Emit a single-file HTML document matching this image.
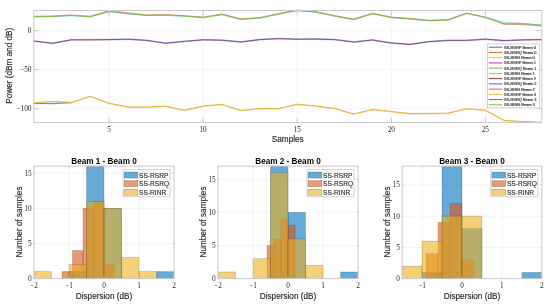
<!DOCTYPE html>
<html><head><meta charset="utf-8"><title>Figure</title>
<style>html,body{margin:0;padding:0;background:#fff;width:550px;height:305px;overflow:hidden}svg{display:block}</style>
</head><body>
<svg width="550" height="305" viewBox="0 0 550 305">
<rect x="0" y="0" width="550" height="305" fill="#ffffff"/>
<g stroke="#f1f1f1" stroke-width="0.8"><line x1="109.06" y1="10.50" x2="109.06" y2="122.60"/><line x1="203.13" y1="10.50" x2="203.13" y2="122.60"/><line x1="297.21" y1="10.50" x2="297.21" y2="122.60"/><line x1="391.28" y1="10.50" x2="391.28" y2="122.60"/><line x1="485.36" y1="10.50" x2="485.36" y2="122.60"/><line x1="33.80" y1="30.60" x2="541.80" y2="30.60"/><line x1="33.80" y1="69.60" x2="541.80" y2="69.60"/><line x1="33.80" y1="108.60" x2="541.80" y2="108.60"/></g>
<polyline points="33.80,16.95 52.61,16.75 71.43,15.75 90.24,16.95 109.06,11.75 127.87,13.95 146.69,15.65 165.50,15.35 184.32,16.35 203.13,17.85 221.95,14.75 240.76,19.55 259.58,18.35 278.39,14.35 297.21,10.75 316.02,12.35 334.84,16.35 353.65,19.75 372.47,13.95 391.28,17.75 410.10,19.15 428.91,20.95 447.73,20.35 466.54,13.60 485.36,16.90 504.17,22.40 522.99,23.50 541.80,25.20" fill="none" stroke="#71CBF1" stroke-width="0.80" stroke-opacity="1.00" stroke-linejoin="round"/>
<polyline points="33.80,16.25 52.61,16.05 71.43,15.05 90.24,16.25 109.06,10.60 127.87,12.80 146.69,14.95 165.50,14.65 184.32,15.65 203.13,17.15 221.95,14.05 240.76,18.85 259.58,17.65 278.39,13.65 297.21,10.05 316.02,11.65 334.84,15.65 353.65,19.05 372.47,13.25 391.28,17.05 410.10,18.45 428.91,20.25 447.73,19.65 466.54,13.05 485.36,17.50 504.17,24.30 522.99,24.50 541.80,25.90" fill="none" stroke="#E17547" stroke-width="0.80" stroke-opacity="1.00" stroke-linejoin="round"/>
<polyline points="33.80,16.60 52.61,16.40 71.43,15.40 90.24,16.60 109.06,11.40 127.87,13.60 146.69,15.30 165.50,15.00 184.32,16.00 203.13,17.50 221.95,14.40 240.76,19.20 259.58,18.00 278.39,14.00 297.21,10.40 316.02,12.00 334.84,16.00 353.65,19.40 372.47,13.60 391.28,17.40 410.10,18.80 428.91,20.60 447.73,20.00 466.54,13.40 485.36,17.30 504.17,23.70 522.99,23.70 541.80,25.20" fill="none" stroke="#84BC45" stroke-width="0.95" stroke-opacity="1.00" stroke-linejoin="round"/>
<polyline points="33.80,41.40 52.61,43.70 71.43,40.20 90.24,40.20 109.06,40.00 127.87,39.60 146.69,40.80 165.50,43.60 184.32,41.80 203.13,40.20 221.95,40.60 240.76,42.40 259.58,40.00 278.39,39.00 297.21,39.60 316.02,39.40 334.84,40.00 353.65,42.40 372.47,40.40 391.28,43.40 410.10,44.80 428.91,42.00 447.73,40.80 466.54,40.80 485.36,39.60 504.17,41.00 522.99,40.30 541.80,40.00" fill="none" stroke="#C25A70" stroke-width="0.90" stroke-opacity="0.50" stroke-linejoin="round"/>
<polyline points="33.80,40.65 52.61,42.95 71.43,39.45 90.24,39.45 109.06,39.25 127.87,38.85 146.69,40.05 165.50,42.85 184.32,41.05 203.13,39.45 221.95,39.85 240.76,41.65 259.58,39.25 278.39,38.25 297.21,38.85 316.02,38.65 334.84,39.25 353.65,41.65 372.47,39.65 391.28,42.65 410.10,44.05 428.91,41.25 447.73,40.05 466.54,40.05 485.36,38.85 504.17,40.25 522.99,39.55 541.80,39.25" fill="none" stroke="#3F7FC8" stroke-width="0.90" stroke-opacity="0.50" stroke-linejoin="round"/>
<polyline points="33.80,41.00 52.61,43.30 71.43,39.80 90.24,39.80 109.06,39.60 127.87,39.20 146.69,40.40 165.50,43.20 184.32,41.40 203.13,39.80 221.95,40.20 240.76,42.00 259.58,39.60 278.39,38.60 297.21,39.20 316.02,39.00 334.84,39.60 353.65,42.00 372.47,40.00 391.28,43.00 410.10,44.40 428.91,41.60 447.73,40.40 466.54,40.40 485.36,39.20 504.17,40.60 522.99,39.90 541.80,39.60" fill="none" stroke="#7E3F9C" stroke-width="0.90" stroke-opacity="1.00" stroke-linejoin="round"/>
<polyline points="33.80,103.50 52.61,103.70 71.43,102.60" fill="none" stroke="#4A9ED6" stroke-width="1.20" stroke-opacity="1.00" stroke-linejoin="round"/>
<polyline points="33.80,103.20 52.61,101.80 71.43,102.80 90.24,96.60 109.06,103.60 127.87,107.40 146.69,107.40 165.50,106.60 184.32,110.60 203.13,106.40 221.95,104.80 240.76,110.80 259.58,109.00 278.39,109.00 297.21,104.60 316.02,106.40 334.84,108.80 353.65,114.40 372.47,109.80 391.28,111.80 410.10,114.00 428.91,113.80 447.73,113.60 466.54,109.00 485.36,110.60 504.17,120.80 522.99,121.90 541.80,122.70" fill="none" stroke="#E07A45" stroke-width="0.90" stroke-opacity="0.45" stroke-linejoin="round"/>
<polyline points="33.80,102.80 52.61,101.40 71.43,102.40 90.24,96.20 109.06,103.20 127.87,107.00 146.69,107.00 165.50,106.20 184.32,110.20 203.13,106.00 221.95,104.40 240.76,110.40 259.58,108.60 278.39,108.60 297.21,104.20 316.02,106.00 334.84,108.40 353.65,114.00 372.47,109.40 391.28,111.40 410.10,113.60 428.91,113.40 447.73,113.20 466.54,108.60 485.36,110.20 504.17,120.40 522.99,121.50 541.80,122.30" fill="none" stroke="#EDB22A" stroke-width="1.00" stroke-opacity="1.00" stroke-linejoin="round"/>
<g stroke="#c9c9c9" stroke-width="1"><rect x="33.80" y="10.50" width="508.00" height="112.10" fill="none"/><line x1="109.06" y1="122.60" x2="109.06" y2="117.60"/><line x1="109.06" y1="10.50" x2="109.06" y2="15.50"/><line x1="203.13" y1="122.60" x2="203.13" y2="117.60"/><line x1="203.13" y1="10.50" x2="203.13" y2="15.50"/><line x1="297.21" y1="122.60" x2="297.21" y2="117.60"/><line x1="297.21" y1="10.50" x2="297.21" y2="15.50"/><line x1="391.28" y1="122.60" x2="391.28" y2="117.60"/><line x1="391.28" y1="10.50" x2="391.28" y2="15.50"/><line x1="485.36" y1="122.60" x2="485.36" y2="117.60"/><line x1="485.36" y1="10.50" x2="485.36" y2="15.50"/><line x1="33.80" y1="30.60" x2="38.80" y2="30.60"/><line x1="541.80" y1="30.60" x2="536.80" y2="30.60"/><line x1="33.80" y1="69.60" x2="38.80" y2="69.60"/><line x1="541.80" y1="69.60" x2="536.80" y2="69.60"/><line x1="33.80" y1="108.60" x2="38.80" y2="108.60"/><line x1="541.80" y1="108.60" x2="536.80" y2="108.60"/></g>
<g style="font-family:'Liberation Serif',serif;font-size:7.3px" fill="#262626"><text x="109.06" y="132.0" text-anchor="middle">5</text><text x="203.13" y="132.0" text-anchor="middle">10</text><text x="297.21" y="132.0" text-anchor="middle">15</text><text x="391.28" y="132.0" text-anchor="middle">20</text><text x="485.36" y="132.0" text-anchor="middle">25</text><text x="31.5" y="32.90" text-anchor="end">0</text><text x="31.5" y="71.90" text-anchor="end">−50</text><text x="31.5" y="110.90" text-anchor="end">−100</text></g>
<text x="287.8" y="141.7" text-anchor="middle" style="font-family:'Liberation Sans',sans-serif;font-size:8.2px" fill="#262626" stroke="#262626" stroke-width="0.15">Samples</text>
<text transform="translate(12.3,65.7) rotate(-90)" text-anchor="middle" style="font-family:'Liberation Sans',sans-serif;font-size:8.2px" fill="#262626" stroke="#262626" stroke-width="0.15">Power (dBm and dB)</text>
<rect x="487.50" y="44.00" width="52.00" height="63.80" fill="#ffffff" stroke="#c8c8c8" stroke-width="0.8"/>
<g style="font-family:'Liberation Sans',sans-serif;font-size:3.95px" fill="#3a3a3a" stroke="#3a3a3a" stroke-width="0.18"><line x1="488.8" y1="47.20" x2="502.4" y2="47.20" stroke="#0072BD" stroke-width="0.9"/><text x="503.9" y="48.60">SS-RSRP Beam 0</text><line x1="488.8" y1="52.44" x2="502.4" y2="52.44" stroke="#D95319" stroke-width="0.9"/><text x="503.9" y="53.84">SS-RSRQ Beam 0</text><line x1="488.8" y1="57.68" x2="502.4" y2="57.68" stroke="#EDB120" stroke-width="0.9"/><text x="503.9" y="59.08">SS-RINR Beam 0</text><line x1="488.8" y1="62.92" x2="502.4" y2="62.92" stroke="#7E2F8E" stroke-width="0.9"/><text x="503.9" y="64.32">SS-RSRP Beam 1</text><line x1="488.8" y1="68.16" x2="502.4" y2="68.16" stroke="#77AC30" stroke-width="0.9"/><text x="503.9" y="69.56">SS-RSRQ Beam 1</text><line x1="488.8" y1="73.40" x2="502.4" y2="73.40" stroke="#4DBEEE" stroke-width="0.9"/><text x="503.9" y="74.80">SS-RINR Beam 1</text><line x1="488.8" y1="78.64" x2="502.4" y2="78.64" stroke="#A2142F" stroke-width="0.9"/><text x="503.9" y="80.04">SS-RSRP Beam 2</text><line x1="488.8" y1="83.88" x2="502.4" y2="83.88" stroke="#0072BD" stroke-width="0.9"/><text x="503.9" y="85.28">SS-RSRQ Beam 2</text><line x1="488.8" y1="89.12" x2="502.4" y2="89.12" stroke="#D95319" stroke-width="0.9"/><text x="503.9" y="90.52">SS-RINR Beam 2</text><line x1="488.8" y1="94.36" x2="502.4" y2="94.36" stroke="#EDB120" stroke-width="0.9"/><text x="503.9" y="95.76">SS-RSRP Beam 3</text><line x1="488.8" y1="99.60" x2="502.4" y2="99.60" stroke="#7E2F8E" stroke-width="0.9"/><text x="503.9" y="101.00">SS-RSRQ Beam 3</text><line x1="488.8" y1="104.84" x2="502.4" y2="104.84" stroke="#77AC30" stroke-width="0.9"/><text x="503.9" y="106.24">SS-RINR Beam 3</text></g>
<g stroke="#f1f1f1" stroke-width="0.8"><line x1="69.00" y1="166.10" x2="69.00" y2="278.60"/><line x1="104.00" y1="166.10" x2="104.00" y2="278.60"/><line x1="139.00" y1="166.10" x2="139.00" y2="278.60"/><line x1="34.00" y1="243.44" x2="174.00" y2="243.44"/><line x1="34.00" y1="208.29" x2="174.00" y2="208.29"/><line x1="34.00" y1="173.13" x2="174.00" y2="173.13"/></g>
<g fill="#0072BD" fill-opacity="0.6" stroke="#262626" stroke-opacity="0.35" stroke-width="0.5"><rect x="69.00" y="271.57" width="17.50" height="7.03"/><rect x="86.50" y="166.10" width="17.50" height="112.50"/><rect x="104.00" y="208.29" width="17.50" height="70.31"/><rect x="156.50" y="271.57" width="17.50" height="7.03"/></g>
<g fill="#D95319" fill-opacity="0.6" stroke="#262626" stroke-opacity="0.35" stroke-width="0.5"><rect x="62.00" y="271.57" width="10.50" height="7.03"/><rect x="72.50" y="250.48" width="10.50" height="28.12"/><rect x="83.00" y="208.29" width="10.50" height="70.31"/><rect x="93.50" y="201.26" width="10.50" height="77.34"/><rect x="104.00" y="264.54" width="10.50" height="14.06"/></g>
<g fill="#EDB120" fill-opacity="0.6" stroke="#262626" stroke-opacity="0.35" stroke-width="0.5"><rect x="34.00" y="271.57" width="17.50" height="7.03"/><rect x="69.00" y="264.54" width="17.50" height="14.06"/><rect x="86.50" y="201.26" width="17.50" height="77.34"/><rect x="104.00" y="208.29" width="17.50" height="70.31"/><rect x="121.50" y="257.51" width="17.50" height="21.09"/><rect x="139.00" y="271.57" width="17.50" height="7.03"/></g>
<g stroke="#c9c9c9" stroke-width="1"><rect x="34.00" y="166.10" width="140.00" height="112.50" fill="none"/><line x1="34.00" y1="278.60" x2="34.00" y2="277.20"/><line x1="34.00" y1="166.10" x2="34.00" y2="167.50"/><line x1="69.00" y1="278.60" x2="69.00" y2="277.20"/><line x1="69.00" y1="166.10" x2="69.00" y2="167.50"/><line x1="104.00" y1="278.60" x2="104.00" y2="277.20"/><line x1="104.00" y1="166.10" x2="104.00" y2="167.50"/><line x1="139.00" y1="278.60" x2="139.00" y2="277.20"/><line x1="139.00" y1="166.10" x2="139.00" y2="167.50"/><line x1="174.00" y1="278.60" x2="174.00" y2="277.20"/><line x1="174.00" y1="166.10" x2="174.00" y2="167.50"/><line x1="34.00" y1="278.60" x2="35.40" y2="278.60"/><line x1="174.00" y1="278.60" x2="172.60" y2="278.60"/><line x1="34.00" y1="243.44" x2="35.40" y2="243.44"/><line x1="174.00" y1="243.44" x2="172.60" y2="243.44"/><line x1="34.00" y1="208.29" x2="35.40" y2="208.29"/><line x1="174.00" y1="208.29" x2="172.60" y2="208.29"/><line x1="34.00" y1="173.13" x2="35.40" y2="173.13"/><line x1="174.00" y1="173.13" x2="172.60" y2="173.13"/></g>
<g style="font-family:'Liberation Serif',serif;font-size:7.3px" fill="#262626"><text x="34.00" y="288.4" text-anchor="middle">−2</text><text x="69.00" y="288.4" text-anchor="middle">−1</text><text x="104.00" y="288.4" text-anchor="middle">0</text><text x="139.00" y="288.4" text-anchor="middle">1</text><text x="174.00" y="288.4" text-anchor="middle">2</text><text x="31.70" y="281.00" text-anchor="end">0</text><text x="31.70" y="245.84" text-anchor="end">5</text><text x="31.70" y="210.69" text-anchor="end">10</text><text x="31.70" y="175.53" text-anchor="end">15</text></g>
<text x="104.00" y="164.4" text-anchor="middle" style="font-family:'Liberation Sans',sans-serif;font-size:8.2px;font-weight:bold" fill="#000">Beam 1 - Beam 0</text>
<text x="104.00" y="298.7" text-anchor="middle" style="font-family:'Liberation Sans',sans-serif;font-size:8.2px" fill="#262626" stroke="#262626" stroke-width="0.15">Dispersion (dB)</text>
<text transform="translate(22.20,222.0) rotate(-90)" text-anchor="middle" style="font-family:'Liberation Sans',sans-serif;font-size:8.2px" fill="#262626" stroke="#262626" stroke-width="0.15">Number of samples</text>
<rect x="123.00" y="169.70" width="47.0" height="27.1" fill="#ffffff" stroke="#c8c8c8" stroke-width="0.8"/>
<g style="font-family:'Liberation Sans',sans-serif;font-size:6.6px" fill="#262626" stroke="#262626" stroke-width="0.12"><rect x="124.10" y="172.00" width="13.8" height="6.1" fill="#0072BD" fill-opacity="0.6" stroke="#262626" stroke-opacity="0.4" stroke-width="0.5"/><text x="139.10" y="177.70">SS-RSRP</text><rect x="124.10" y="180.60" width="13.8" height="6.1" fill="#D95319" fill-opacity="0.6" stroke="#262626" stroke-opacity="0.4" stroke-width="0.5"/><text x="139.10" y="186.30">SS-RSRQ</text><rect x="124.10" y="189.20" width="13.8" height="6.1" fill="#EDB120" fill-opacity="0.6" stroke="#262626" stroke-opacity="0.4" stroke-width="0.5"/><text x="139.10" y="194.90">SS-RINR</text></g>
<g stroke="#f1f1f1" stroke-width="0.8"><line x1="253.00" y1="166.10" x2="253.00" y2="278.60"/><line x1="288.00" y1="166.10" x2="288.00" y2="278.60"/><line x1="323.00" y1="166.10" x2="323.00" y2="278.60"/><line x1="218.00" y1="245.51" x2="358.00" y2="245.51"/><line x1="218.00" y1="212.42" x2="358.00" y2="212.42"/><line x1="218.00" y1="179.34" x2="358.00" y2="179.34"/></g>
<g fill="#0072BD" fill-opacity="0.6" stroke="#262626" stroke-opacity="0.35" stroke-width="0.5"><rect x="270.50" y="166.10" width="17.50" height="112.50"/><rect x="288.00" y="212.42" width="17.50" height="66.18"/><rect x="340.50" y="271.98" width="17.50" height="6.62"/></g>
<g fill="#D95319" fill-opacity="0.6" stroke="#262626" stroke-opacity="0.35" stroke-width="0.5"><rect x="267.00" y="245.51" width="7.00" height="33.09"/><rect x="274.00" y="238.89" width="7.00" height="39.71"/><rect x="281.00" y="219.04" width="7.00" height="59.56"/><rect x="288.00" y="225.66" width="7.00" height="52.94"/></g>
<g fill="#EDB120" fill-opacity="0.6" stroke="#262626" stroke-opacity="0.35" stroke-width="0.5"><rect x="218.00" y="271.98" width="17.50" height="6.62"/><rect x="253.00" y="258.75" width="17.50" height="19.85"/><rect x="270.50" y="172.72" width="17.50" height="105.88"/><rect x="288.00" y="238.89" width="17.50" height="39.71"/><rect x="305.50" y="265.36" width="17.50" height="13.24"/></g>
<g stroke="#c9c9c9" stroke-width="1"><rect x="218.00" y="166.10" width="140.00" height="112.50" fill="none"/><line x1="218.00" y1="278.60" x2="218.00" y2="277.20"/><line x1="218.00" y1="166.10" x2="218.00" y2="167.50"/><line x1="253.00" y1="278.60" x2="253.00" y2="277.20"/><line x1="253.00" y1="166.10" x2="253.00" y2="167.50"/><line x1="288.00" y1="278.60" x2="288.00" y2="277.20"/><line x1="288.00" y1="166.10" x2="288.00" y2="167.50"/><line x1="323.00" y1="278.60" x2="323.00" y2="277.20"/><line x1="323.00" y1="166.10" x2="323.00" y2="167.50"/><line x1="358.00" y1="278.60" x2="358.00" y2="277.20"/><line x1="358.00" y1="166.10" x2="358.00" y2="167.50"/><line x1="218.00" y1="278.60" x2="219.40" y2="278.60"/><line x1="358.00" y1="278.60" x2="356.60" y2="278.60"/><line x1="218.00" y1="245.51" x2="219.40" y2="245.51"/><line x1="358.00" y1="245.51" x2="356.60" y2="245.51"/><line x1="218.00" y1="212.42" x2="219.40" y2="212.42"/><line x1="358.00" y1="212.42" x2="356.60" y2="212.42"/><line x1="218.00" y1="179.34" x2="219.40" y2="179.34"/><line x1="358.00" y1="179.34" x2="356.60" y2="179.34"/></g>
<g style="font-family:'Liberation Serif',serif;font-size:7.3px" fill="#262626"><text x="218.00" y="288.4" text-anchor="middle">−2</text><text x="253.00" y="288.4" text-anchor="middle">−1</text><text x="288.00" y="288.4" text-anchor="middle">0</text><text x="323.00" y="288.4" text-anchor="middle">1</text><text x="358.00" y="288.4" text-anchor="middle">2</text><text x="215.70" y="281.00" text-anchor="end">0</text><text x="215.70" y="247.91" text-anchor="end">5</text><text x="215.70" y="214.82" text-anchor="end">10</text><text x="215.70" y="181.74" text-anchor="end">15</text></g>
<text x="288.00" y="164.4" text-anchor="middle" style="font-family:'Liberation Sans',sans-serif;font-size:8.2px;font-weight:bold" fill="#000">Beam 2 - Beam 0</text>
<text x="288.00" y="298.7" text-anchor="middle" style="font-family:'Liberation Sans',sans-serif;font-size:8.2px" fill="#262626" stroke="#262626" stroke-width="0.15">Dispersion (dB)</text>
<text transform="translate(206.20,222.0) rotate(-90)" text-anchor="middle" style="font-family:'Liberation Sans',sans-serif;font-size:8.2px" fill="#262626" stroke="#262626" stroke-width="0.15">Number of samples</text>
<rect x="307.00" y="169.70" width="47.0" height="27.1" fill="#ffffff" stroke="#c8c8c8" stroke-width="0.8"/>
<g style="font-family:'Liberation Sans',sans-serif;font-size:6.6px" fill="#262626" stroke="#262626" stroke-width="0.12"><rect x="308.10" y="172.00" width="13.8" height="6.1" fill="#0072BD" fill-opacity="0.6" stroke="#262626" stroke-opacity="0.4" stroke-width="0.5"/><text x="323.10" y="177.70">SS-RSRP</text><rect x="308.10" y="180.60" width="13.8" height="6.1" fill="#D95319" fill-opacity="0.6" stroke="#262626" stroke-opacity="0.4" stroke-width="0.5"/><text x="323.10" y="186.30">SS-RSRQ</text><rect x="308.10" y="189.20" width="13.8" height="6.1" fill="#EDB120" fill-opacity="0.6" stroke="#262626" stroke-opacity="0.4" stroke-width="0.5"/><text x="323.10" y="194.90">SS-RINR</text></g>
<g stroke="#f1f1f1" stroke-width="0.8"><line x1="422.06" y1="166.10" x2="422.06" y2="278.60"/><line x1="461.97" y1="166.10" x2="461.97" y2="278.60"/><line x1="501.89" y1="166.10" x2="501.89" y2="278.60"/><line x1="402.10" y1="247.35" x2="541.80" y2="247.35"/><line x1="402.10" y1="216.10" x2="541.80" y2="216.10"/><line x1="402.10" y1="184.85" x2="541.80" y2="184.85"/></g>
<g fill="#0072BD" fill-opacity="0.6" stroke="#262626" stroke-opacity="0.35" stroke-width="0.5"><rect x="422.06" y="272.35" width="19.96" height="6.25"/><rect x="442.01" y="166.10" width="19.96" height="112.50"/><rect x="461.97" y="228.60" width="19.96" height="50.00"/><rect x="521.84" y="272.35" width="19.96" height="6.25"/></g>
<g fill="#D95319" fill-opacity="0.6" stroke="#262626" stroke-opacity="0.35" stroke-width="0.5"><rect x="426.05" y="253.60" width="11.97" height="25.00"/><rect x="438.02" y="222.35" width="11.97" height="56.25"/><rect x="450.00" y="203.60" width="11.97" height="75.00"/><rect x="461.97" y="259.85" width="11.97" height="18.75"/></g>
<g fill="#EDB120" fill-opacity="0.6" stroke="#262626" stroke-opacity="0.35" stroke-width="0.5"><rect x="402.10" y="266.10" width="19.96" height="12.50"/><rect x="422.06" y="241.10" width="19.96" height="37.50"/><rect x="442.01" y="216.10" width="19.96" height="62.50"/><rect x="461.97" y="216.10" width="19.96" height="62.50"/></g>
<g stroke="#c9c9c9" stroke-width="1"><rect x="402.10" y="166.10" width="139.70" height="112.50" fill="none"/><line x1="422.06" y1="278.60" x2="422.06" y2="277.20"/><line x1="422.06" y1="166.10" x2="422.06" y2="167.50"/><line x1="461.97" y1="278.60" x2="461.97" y2="277.20"/><line x1="461.97" y1="166.10" x2="461.97" y2="167.50"/><line x1="501.89" y1="278.60" x2="501.89" y2="277.20"/><line x1="501.89" y1="166.10" x2="501.89" y2="167.50"/><line x1="541.80" y1="278.60" x2="541.80" y2="277.20"/><line x1="541.80" y1="166.10" x2="541.80" y2="167.50"/><line x1="402.10" y1="278.60" x2="403.50" y2="278.60"/><line x1="541.80" y1="278.60" x2="540.40" y2="278.60"/><line x1="402.10" y1="247.35" x2="403.50" y2="247.35"/><line x1="541.80" y1="247.35" x2="540.40" y2="247.35"/><line x1="402.10" y1="216.10" x2="403.50" y2="216.10"/><line x1="541.80" y1="216.10" x2="540.40" y2="216.10"/><line x1="402.10" y1="184.85" x2="403.50" y2="184.85"/><line x1="541.80" y1="184.85" x2="540.40" y2="184.85"/></g>
<g style="font-family:'Liberation Serif',serif;font-size:7.3px" fill="#262626"><text x="422.06" y="288.4" text-anchor="middle">−1</text><text x="461.97" y="288.4" text-anchor="middle">0</text><text x="501.89" y="288.4" text-anchor="middle">1</text><text x="541.80" y="288.4" text-anchor="middle">2</text><text x="399.80" y="281.00" text-anchor="end">0</text><text x="399.80" y="249.75" text-anchor="end">5</text><text x="399.80" y="218.50" text-anchor="end">10</text><text x="399.80" y="187.25" text-anchor="end">15</text></g>
<text x="471.95" y="164.4" text-anchor="middle" style="font-family:'Liberation Sans',sans-serif;font-size:8.2px;font-weight:bold" fill="#000">Beam 3 - Beam 0</text>
<text x="471.95" y="298.7" text-anchor="middle" style="font-family:'Liberation Sans',sans-serif;font-size:8.2px" fill="#262626" stroke="#262626" stroke-width="0.15">Dispersion (dB)</text>
<text transform="translate(390.30,222.0) rotate(-90)" text-anchor="middle" style="font-family:'Liberation Sans',sans-serif;font-size:8.2px" fill="#262626" stroke="#262626" stroke-width="0.15">Number of samples</text>
<rect x="490.80" y="169.70" width="47.0" height="27.1" fill="#ffffff" stroke="#c8c8c8" stroke-width="0.8"/>
<g style="font-family:'Liberation Sans',sans-serif;font-size:6.6px" fill="#262626" stroke="#262626" stroke-width="0.12"><rect x="491.90" y="172.00" width="13.8" height="6.1" fill="#0072BD" fill-opacity="0.6" stroke="#262626" stroke-opacity="0.4" stroke-width="0.5"/><text x="506.90" y="177.70">SS-RSRP</text><rect x="491.90" y="180.60" width="13.8" height="6.1" fill="#D95319" fill-opacity="0.6" stroke="#262626" stroke-opacity="0.4" stroke-width="0.5"/><text x="506.90" y="186.30">SS-RSRQ</text><rect x="491.90" y="189.20" width="13.8" height="6.1" fill="#EDB120" fill-opacity="0.6" stroke="#262626" stroke-opacity="0.4" stroke-width="0.5"/><text x="506.90" y="194.90">SS-RINR</text></g>
</svg>
</body></html>
